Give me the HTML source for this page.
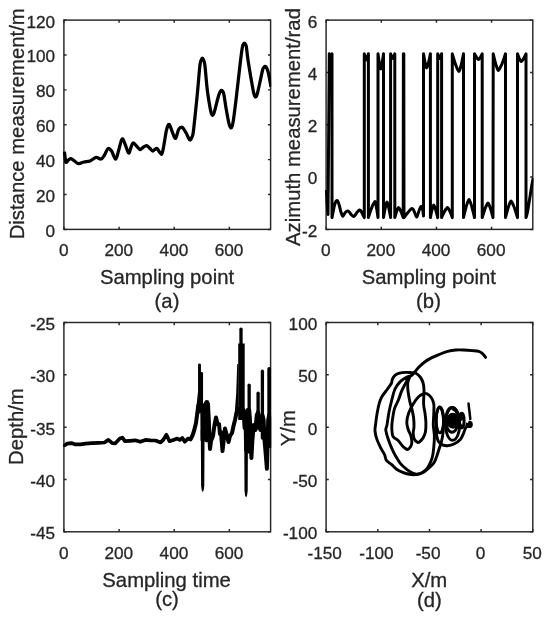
<!DOCTYPE html>
<html><head><meta charset="utf-8"><title>Figure</title>
<style>
html,body{margin:0;padding:0;background:#fff;}
svg{display:block;}
svg text{font-family:"Liberation Sans",sans-serif;fill:#262626;stroke:#262626;stroke-width:0.3px;}
</style></head><body>
<svg width="550" height="619" viewBox="0 0 550 619">
<rect width="550" height="619" fill="#ffffff"/>
<defs>
<clipPath id="ca"><rect x="62.50" y="20.10" width="208.70" height="209.30"/></clipPath>
<clipPath id="cb"><rect x="324.70" y="20.10" width="208.70" height="209.30"/></clipPath>
<clipPath id="cc"><rect x="62.50" y="322.50" width="208.70" height="209.30"/></clipPath>
<clipPath id="cd"><rect x="324.70" y="322.50" width="208.70" height="209.30"/></clipPath>
</defs>
<rect x="63.90" y="20.10" width="206.70" height="209.30" fill="none" stroke="#262626" stroke-width="1.45"/>
<path d="M64.00 229.40 v-2.70 M64.00 20.10 v2.70 M119.12 229.40 v-2.70 M119.12 20.10 v2.70 M174.24 229.40 v-2.70 M174.24 20.10 v2.70 M229.36 229.40 v-2.70 M229.36 20.10 v2.70 M63.90 229.40 h2.70 M270.60 229.40 h-2.70 M63.90 194.52 h2.70 M270.60 194.52 h-2.70 M63.90 159.63 h2.70 M270.60 159.63 h-2.70 M63.90 124.75 h2.70 M270.60 124.75 h-2.70 M63.90 89.87 h2.70 M270.60 89.87 h-2.70 M63.90 54.98 h2.70 M270.60 54.98 h-2.70 M63.90 20.10 h2.70 M270.60 20.10 h-2.70 " stroke="#262626" stroke-width="1.45" fill="none"/>
<text x="63.70" y="256.40" font-size="17.2" text-anchor="middle">0</text>
<text x="118.82" y="256.40" font-size="17.2" text-anchor="middle">200</text>
<text x="173.94" y="256.40" font-size="17.2" text-anchor="middle">400</text>
<text x="229.06" y="256.40" font-size="17.2" text-anchor="middle">600</text>
<text x="55.10" y="236.80" font-size="17.2" text-anchor="end">0</text>
<text x="55.10" y="201.92" font-size="17.2" text-anchor="end">20</text>
<text x="55.10" y="167.03" font-size="17.2" text-anchor="end">40</text>
<text x="55.10" y="132.15" font-size="17.2" text-anchor="end">60</text>
<text x="55.10" y="97.27" font-size="17.2" text-anchor="end">80</text>
<text x="55.10" y="62.38" font-size="17.2" text-anchor="end">100</text>
<text x="55.10" y="27.50" font-size="17.2" text-anchor="end">120</text>
<text x="167.00" y="284.20" font-size="20.3" text-anchor="middle">Sampling point</text>
<text x="167.00" y="308.20" font-size="20.3" text-anchor="middle">(a)</text>
<text transform="translate(23.60 123.80) rotate(-90)" font-size="20.3" text-anchor="middle">Distance measurement/m</text>
<path clip-path="url(#ca)" d="M64.40 151.60 C64.53 152.67 64.93 156.20 65.20 158.00 C65.47 159.80 65.45 162.07 66.00 162.40 C66.55 162.73 67.67 160.63 68.50 160.00 C69.33 159.37 70.08 158.50 71.00 158.60 C71.92 158.70 72.77 159.77 74.00 160.60 C75.23 161.43 76.73 163.37 78.40 163.60 C80.07 163.83 82.07 162.43 84.00 162.00 C85.93 161.57 88.00 161.77 90.00 161.00 C92.00 160.23 94.17 157.73 96.00 157.40 C97.83 157.07 99.58 159.40 101.00 159.00 C102.42 158.60 103.33 156.73 104.50 155.00 C105.67 153.27 106.82 149.27 108.00 148.60 C109.18 147.93 110.33 149.23 111.60 151.00 C112.87 152.77 114.45 159.20 115.60 159.20 C116.75 159.20 117.43 154.37 118.50 151.00 C119.57 147.63 120.92 140.17 122.00 139.00 C123.08 137.83 123.90 141.67 125.00 144.00 C126.10 146.33 127.63 152.33 128.60 153.00 C129.57 153.67 130.07 149.67 130.80 148.00 C131.53 146.33 132.05 143.33 133.00 143.00 C133.95 142.67 135.33 144.90 136.50 146.00 C137.67 147.10 138.92 149.35 140.00 149.60 C141.08 149.85 141.93 148.17 143.00 147.50 C144.07 146.83 145.32 145.52 146.40 145.60 C147.48 145.68 148.47 147.10 149.50 148.00 C150.53 148.90 151.72 150.75 152.60 151.00 C153.48 151.25 154.07 149.92 154.80 149.50 C155.53 149.08 156.22 148.08 157.00 148.50 C157.78 148.92 158.75 151.03 159.50 152.00 C160.25 152.97 160.92 154.63 161.50 154.30 C162.08 153.97 162.48 152.22 163.00 150.00 C163.52 147.78 164.02 144.33 164.60 141.00 C165.18 137.67 165.80 132.77 166.50 130.00 C167.20 127.23 168.13 124.90 168.80 124.40 C169.47 123.90 169.92 125.73 170.50 127.00 C171.08 128.27 171.47 130.10 172.30 132.00 C173.13 133.90 174.45 138.82 175.50 138.40 C176.55 137.98 177.55 131.37 178.60 129.50 C179.65 127.63 180.90 127.20 181.80 127.20 C182.70 127.20 183.25 128.48 184.00 129.50 C184.75 130.52 185.33 131.57 186.30 133.30 C187.27 135.03 188.85 139.28 189.80 139.90 C190.75 140.52 191.42 138.32 192.00 137.00 C192.58 135.68 192.67 136.67 193.30 132.00 C193.93 127.33 195.07 116.00 195.80 109.00 C196.53 102.00 197.02 97.25 197.70 90.00 C198.38 82.75 199.32 70.50 199.90 65.50 C200.48 60.50 200.78 61.25 201.20 60.00 C201.62 58.75 202.00 58.00 202.40 58.00 C202.80 58.00 203.18 58.75 203.60 60.00 C204.02 61.25 204.28 60.50 204.90 65.50 C205.52 70.50 206.45 83.00 207.30 90.00 C208.15 97.00 209.33 103.62 210.00 107.50 C210.67 111.38 210.88 112.00 211.30 113.30 C211.72 114.60 212.10 115.22 212.50 115.30 C212.90 115.38 213.28 114.77 213.70 113.80 C214.12 112.83 214.38 111.80 215.00 109.50 C215.62 107.20 216.68 102.67 217.40 100.00 C218.12 97.33 218.78 94.97 219.30 93.50 C219.82 92.03 220.12 91.72 220.50 91.20 C220.88 90.68 221.23 90.37 221.60 90.40 C221.97 90.43 222.32 90.72 222.70 91.40 C223.08 92.08 223.35 91.73 223.90 94.50 C224.45 97.27 225.23 103.50 226.00 108.00 C226.77 112.50 227.87 118.47 228.50 121.50 C229.13 124.53 229.38 125.12 229.80 126.20 C230.22 127.28 230.60 128.03 231.00 128.00 C231.40 127.97 231.80 127.33 232.20 126.00 C232.60 124.67 232.77 124.33 233.40 120.00 C234.03 115.67 234.80 110.00 236.00 100.00 C237.20 90.00 239.53 68.83 240.60 60.00 C241.67 51.17 241.93 49.63 242.40 47.00 C242.87 44.37 243.07 44.87 243.40 44.20 C243.73 43.53 244.07 43.00 244.40 43.00 C244.73 43.00 245.07 43.53 245.40 44.20 C245.73 44.87 245.97 44.37 246.40 47.00 C246.83 49.63 247.07 53.83 248.00 60.00 C248.93 66.17 251.03 78.42 252.00 84.00 C252.97 89.58 253.35 91.50 253.80 93.50 C254.25 95.50 254.40 95.42 254.70 96.00 C255.00 96.58 255.28 97.03 255.60 97.00 C255.92 96.97 256.27 96.55 256.60 95.80 C256.93 95.05 257.03 94.80 257.60 92.50 C258.17 90.20 259.17 85.75 260.00 82.00 C260.83 78.25 261.95 72.45 262.60 70.00 C263.25 67.55 263.50 67.90 263.90 67.30 C264.30 66.70 264.63 66.45 265.00 66.40 C265.37 66.35 265.73 66.52 266.10 67.00 C266.47 67.48 266.78 68.13 267.20 69.30 C267.62 70.47 267.97 71.05 268.60 74.00 C269.23 76.95 270.60 84.83 271.00 87.00" fill="none" stroke="#000" stroke-width="3.25" stroke-linejoin="round" stroke-linecap="butt"/>
<rect x="326.10" y="20.10" width="206.70" height="209.30" fill="none" stroke="#262626" stroke-width="1.45"/>
<path d="M326.20 229.40 v-2.70 M326.20 20.10 v2.70 M381.32 229.40 v-2.70 M381.32 20.10 v2.70 M436.44 229.40 v-2.70 M436.44 20.10 v2.70 M491.56 229.40 v-2.70 M491.56 20.10 v2.70 M326.10 229.40 h2.70 M532.80 229.40 h-2.70 M326.10 177.07 h2.70 M532.80 177.07 h-2.70 M326.10 124.75 h2.70 M532.80 124.75 h-2.70 M326.10 72.42 h2.70 M532.80 72.42 h-2.70 M326.10 20.10 h2.70 M532.80 20.10 h-2.70 " stroke="#262626" stroke-width="1.45" fill="none"/>
<text x="325.80" y="256.40" font-size="17.2" text-anchor="middle">0</text>
<text x="380.92" y="256.40" font-size="17.2" text-anchor="middle">200</text>
<text x="436.04" y="256.40" font-size="17.2" text-anchor="middle">400</text>
<text x="491.16" y="256.40" font-size="17.2" text-anchor="middle">600</text>
<text x="317.30" y="236.80" font-size="17.2" text-anchor="end">-2</text>
<text x="317.30" y="184.47" font-size="17.2" text-anchor="end">0</text>
<text x="317.30" y="132.15" font-size="17.2" text-anchor="end">2</text>
<text x="317.30" y="79.82" font-size="17.2" text-anchor="end">4</text>
<text x="317.30" y="27.50" font-size="17.2" text-anchor="end">6</text>
<text x="428.80" y="284.20" font-size="20.3" text-anchor="middle">Sampling point</text>
<text x="428.50" y="308.20" font-size="20.3" text-anchor="middle">(b)</text>
<text transform="translate(299.80 127.00) rotate(-90)" font-size="20.3" text-anchor="middle">Azimuth measurement/rad</text>
<path clip-path="url(#cb)" d="M326.40 190.00 C326.53 192.33 326.93 199.92 327.20 204.00 C327.47 208.08 327.87 212.75 328.00 214.50 L329.30 53.80 L329.30 53.80 C329.52 54.30 330.15 56.80 330.60 56.80 C331.05 56.80 331.77 54.30 332.00 53.80 L332.00 217.60 L332.00 217.60 C332.20 216.58 332.77 213.60 333.20 211.50 C333.63 209.40 334.13 206.70 334.60 205.00 C335.07 203.30 335.60 202.05 336.00 201.30 C336.40 200.55 336.67 200.47 337.00 200.50 C337.33 200.53 337.62 200.67 338.00 201.50 C338.38 202.33 338.83 203.83 339.30 205.50 C339.77 207.17 340.27 209.75 340.80 211.50 C341.33 213.25 342.00 215.45 342.50 216.00 C343.00 216.55 343.30 215.42 343.80 214.80 C344.30 214.18 344.88 212.93 345.50 212.30 C346.12 211.67 346.87 211.05 347.50 211.00 C348.13 210.95 348.67 211.37 349.30 212.00 C349.93 212.63 350.60 214.05 351.30 214.80 C352.00 215.55 352.85 216.47 353.50 216.50 C354.15 216.53 354.57 215.75 355.20 215.00 C355.83 214.25 356.58 212.83 357.30 212.00 C358.02 211.17 358.88 210.17 359.50 210.00 C360.12 209.83 360.48 210.30 361.00 211.00 C361.52 211.70 362.05 213.10 362.60 214.20 C363.15 215.30 364.02 217.03 364.30 217.60 L364.30 53.80 L364.30 53.80 C364.37 54.07 364.57 54.89 364.70 55.41 C364.83 55.93 364.97 56.45 365.10 56.92 C365.23 57.39 365.37 57.84 365.50 58.23 C365.63 58.63 365.77 58.98 365.90 59.28 C366.03 59.57 366.16 60.00 366.30 60.00 C366.44 60.00 366.58 59.57 366.72 59.28 C366.86 58.98 367.00 58.63 367.14 58.23 C367.28 57.84 367.42 57.39 367.56 56.92 C367.70 56.45 367.84 55.93 367.98 55.41 C368.12 54.89 368.33 54.07 368.40 53.80 L368.40 217.60 L368.40 217.60 C368.62 216.90 369.28 214.77 369.72 213.41 C370.16 212.06 370.60 210.72 371.04 209.50 C371.48 208.28 371.92 207.11 372.36 206.09 C372.80 205.07 373.24 204.15 373.68 203.38 C374.12 202.62 374.68 201.50 375.00 201.50 C375.32 201.50 375.40 202.62 375.60 203.38 C375.80 204.15 376.00 205.07 376.20 206.09 C376.40 207.11 376.60 208.28 376.80 209.50 C377.00 210.72 377.20 212.06 377.40 213.41 C377.60 214.77 377.90 216.90 378.00 217.60 L378.00 53.80 L378.00 53.80 C378.09 54.46 378.36 56.48 378.54 57.75 C378.72 59.03 378.90 60.30 379.08 61.45 C379.26 62.60 379.44 63.71 379.62 64.67 C379.80 65.63 379.98 66.50 380.16 67.22 C380.34 67.94 380.52 69.00 380.70 69.00 C380.88 69.00 381.07 67.94 381.26 67.22 C381.45 66.50 381.63 65.63 381.82 64.67 C382.01 63.71 382.19 62.60 382.38 61.45 C382.57 60.30 382.75 59.03 382.94 57.75 C383.13 56.48 383.41 54.46 383.50 53.80 L383.50 217.60 L383.50 217.60 C383.62 216.92 383.97 214.85 384.20 213.54 C384.43 212.24 384.67 210.93 384.90 209.75 C385.13 208.57 385.37 207.43 385.60 206.45 C385.83 205.46 386.07 204.57 386.30 203.82 C386.53 203.08 386.76 202.00 387.00 202.00 C387.24 202.00 387.48 203.08 387.72 203.82 C387.96 204.57 388.20 205.46 388.44 206.45 C388.68 207.43 388.92 208.57 389.16 209.75 C389.40 210.93 389.64 212.24 389.88 213.54 C390.12 214.85 390.48 216.92 390.60 217.60 L390.60 53.80 L390.60 53.80 C390.67 54.00 390.88 54.63 391.02 55.02 C391.16 55.42 391.30 55.81 391.44 56.17 C391.58 56.52 391.72 56.86 391.86 57.16 C392.00 57.46 392.14 57.73 392.28 57.95 C392.42 58.17 392.56 58.50 392.70 58.50 C392.84 58.50 392.98 58.17 393.12 57.95 C393.26 57.73 393.40 57.46 393.54 57.16 C393.68 56.86 393.82 56.52 393.96 56.17 C394.10 55.81 394.24 55.42 394.38 55.02 C394.52 54.63 394.73 54.00 394.80 53.80 L394.80 217.60 L394.80 217.60 C394.92 217.16 395.29 215.82 395.54 214.97 C395.79 214.13 396.03 213.28 396.28 212.52 C396.53 211.75 396.77 211.02 397.02 210.38 C397.27 209.74 397.51 209.16 397.76 208.68 C398.01 208.20 398.22 207.50 398.50 207.50 C398.78 207.50 399.13 208.20 399.44 208.68 C399.75 209.16 400.07 209.74 400.38 210.38 C400.69 211.02 401.01 211.75 401.32 212.52 C401.63 213.28 401.95 214.13 402.26 214.97 C402.57 215.82 403.04 217.16 403.20 217.60 L403.40 53.80 L403.80 53.80 L404.00 217.60 L404.00 217.60 C404.27 217.25 405.02 216.27 405.60 215.50 C406.18 214.73 406.80 213.88 407.50 213.00 C408.20 212.12 409.05 210.95 409.80 210.20 C410.55 209.45 411.40 208.57 412.00 208.50 C412.60 208.43 412.93 209.05 413.40 209.80 C413.87 210.55 414.28 211.80 414.80 213.00 C415.32 214.20 416.00 216.75 416.50 217.00 C417.00 217.25 417.33 215.67 417.80 214.50 C418.27 213.33 418.77 211.33 419.30 210.00 C419.83 208.67 420.52 206.87 421.00 206.50 C421.48 206.13 421.87 206.97 422.20 207.80 C422.53 208.63 422.78 210.13 423.00 211.50 C423.22 212.87 423.42 215.25 423.50 216.00 L423.50 53.80 L423.50 53.80 C423.61 54.42 423.93 56.30 424.14 57.49 C424.35 58.68 424.57 59.87 424.78 60.95 C424.99 62.02 425.21 63.05 425.42 63.95 C425.63 64.85 425.85 65.67 426.06 66.34 C426.27 67.01 426.47 68.00 426.70 68.00 C426.93 68.00 427.19 67.01 427.44 66.34 C427.69 65.67 427.93 64.85 428.18 63.95 C428.43 63.05 428.67 62.02 428.92 60.95 C429.17 59.87 429.41 58.68 429.66 57.49 C429.91 56.30 430.28 54.42 430.40 53.80 L430.40 217.60 L430.40 217.60 C430.51 217.05 430.84 215.38 431.06 214.32 C431.28 213.27 431.50 212.21 431.72 211.26 C431.94 210.30 432.16 209.39 432.38 208.59 C432.60 207.79 432.82 207.07 433.04 206.47 C433.26 205.87 433.46 205.00 433.70 205.00 C433.94 205.00 434.23 205.87 434.50 206.47 C434.77 207.07 435.03 207.79 435.30 208.59 C435.57 209.39 435.83 210.30 436.10 211.26 C436.37 212.21 436.63 213.27 436.90 214.32 C437.17 215.38 437.57 217.05 437.70 217.60 L437.70 53.80 L437.70 53.80 C437.77 54.00 437.97 54.63 438.10 55.02 C438.23 55.42 438.37 55.81 438.50 56.17 C438.63 56.52 438.77 56.86 438.90 57.16 C439.03 57.46 439.17 57.73 439.30 57.95 C439.43 58.17 439.57 58.50 439.70 58.50 C439.83 58.50 439.95 58.17 440.08 57.95 C440.21 57.73 440.33 57.46 440.46 57.16 C440.59 56.86 440.71 56.52 440.84 56.17 C440.97 55.81 441.09 55.42 441.22 55.02 C441.35 54.63 441.54 54.00 441.60 53.80 L441.60 217.60 L441.60 217.60 C441.80 217.16 442.39 215.82 442.78 214.97 C443.17 214.13 443.57 213.28 443.96 212.52 C444.35 211.75 444.75 211.02 445.14 210.38 C445.53 209.74 445.93 209.16 446.32 208.68 C446.71 208.20 447.14 207.50 447.50 207.50 C447.86 207.50 448.14 208.20 448.46 208.68 C448.78 209.16 449.10 209.74 449.42 210.38 C449.74 211.02 450.06 211.75 450.38 212.52 C450.70 213.28 451.02 214.13 451.34 214.97 C451.66 215.82 452.14 217.16 452.30 217.60 L452.30 53.80 L452.30 53.80 C452.52 54.57 453.19 56.92 453.64 58.40 C454.09 59.89 454.53 61.37 454.98 62.71 C455.43 64.05 455.87 65.33 456.32 66.45 C456.77 67.58 457.21 68.59 457.66 69.43 C458.11 70.27 458.63 71.50 459.00 71.50 C459.37 71.50 459.60 70.27 459.90 69.43 C460.20 68.59 460.50 67.58 460.80 66.45 C461.10 65.33 461.40 64.05 461.70 62.71 C462.00 61.37 462.30 59.89 462.60 58.40 C462.90 56.92 463.35 54.57 463.50 53.80 L463.50 217.60 L463.50 217.60 C463.68 216.82 464.23 214.41 464.60 212.89 C464.97 211.38 465.33 209.86 465.70 208.49 C466.07 207.12 466.43 205.80 466.80 204.66 C467.17 203.51 467.53 202.48 467.90 201.62 C468.27 200.76 468.63 199.50 469.00 199.50 C469.37 199.50 469.73 200.76 470.10 201.62 C470.47 202.48 470.83 203.51 471.20 204.66 C471.57 205.80 471.93 207.12 472.30 208.49 C472.67 209.86 473.03 211.38 473.40 212.89 C473.77 214.41 474.32 216.82 474.50 217.60 L474.50 53.80 L474.50 53.80 C474.63 54.05 475.03 54.80 475.30 55.28 C475.57 55.76 475.83 56.24 476.10 56.67 C476.37 57.10 476.63 57.51 476.90 57.88 C477.17 58.24 477.43 58.56 477.70 58.83 C477.97 59.10 478.24 59.50 478.50 59.50 C478.76 59.50 478.99 59.10 479.24 58.83 C479.49 58.56 479.73 58.24 479.98 57.88 C480.23 57.51 480.47 57.10 480.72 56.67 C480.97 56.24 481.21 55.76 481.46 55.28 C481.71 54.80 482.08 54.05 482.20 53.80 L482.20 217.60 L482.20 217.60 C482.39 216.97 482.97 215.03 483.36 213.80 C483.75 212.58 484.13 211.36 484.52 210.25 C484.91 209.14 485.29 208.09 485.68 207.16 C486.07 206.24 486.45 205.40 486.84 204.71 C487.23 204.01 487.64 203.00 488.00 203.00 C488.36 203.00 488.67 204.01 489.00 204.71 C489.33 205.40 489.67 206.24 490.00 207.16 C490.33 208.09 490.67 209.14 491.00 210.25 C491.33 211.36 491.67 212.58 492.00 213.80 C492.33 215.03 492.83 216.97 493.00 217.60 L493.20 53.80 L493.20 53.80 C493.37 54.52 493.88 56.74 494.22 58.14 C494.56 59.54 494.90 60.94 495.24 62.20 C495.58 63.47 495.92 64.68 496.26 65.74 C496.60 66.80 496.94 67.75 497.28 68.55 C497.62 69.34 497.89 70.50 498.30 70.50 C498.71 70.50 499.26 69.34 499.74 68.55 C500.22 67.75 500.70 66.80 501.18 65.74 C501.66 64.68 502.14 63.47 502.62 62.20 C503.10 60.94 503.58 59.54 504.06 58.14 C504.54 56.74 505.26 54.52 505.50 53.80 L505.50 217.60 L505.50 217.60 C505.68 216.88 506.23 214.68 506.60 213.28 C506.97 211.89 507.33 210.50 507.70 209.25 C508.07 207.99 508.43 206.78 508.80 205.73 C509.17 204.68 509.53 203.73 509.90 202.94 C510.27 202.15 510.60 201.00 511.00 201.00 C511.40 201.00 511.87 202.15 512.30 202.94 C512.73 203.73 513.17 204.68 513.60 205.73 C514.03 206.78 514.47 207.99 514.90 209.25 C515.33 210.50 515.77 211.89 516.20 213.28 C516.63 214.68 517.28 216.88 517.50 217.60 L517.50 53.80 L517.50 53.80 C517.62 54.13 517.99 55.16 518.24 55.80 C518.49 56.45 518.73 57.09 518.98 57.68 C519.23 58.26 519.47 58.82 519.72 59.31 C519.97 59.79 520.21 60.23 520.46 60.60 C520.71 60.97 520.92 61.50 521.20 61.50 C521.48 61.50 521.84 60.97 522.16 60.60 C522.48 60.23 522.80 59.79 523.12 59.31 C523.44 58.82 523.76 58.26 524.08 57.68 C524.40 57.09 524.72 56.45 525.04 55.80 C525.36 55.16 525.84 54.13 526.00 53.80 L526.00 217.60 L526.00 217.60 C526.25 216.67 526.92 214.93 527.50 212.00 C528.08 209.07 528.83 204.17 529.50 200.00 C530.17 195.83 530.88 190.67 531.50 187.00 C532.12 183.33 532.92 179.50 533.20 178.00" fill="none" stroke="#000" stroke-width="3" stroke-linejoin="round"/>
<rect x="63.90" y="322.50" width="206.70" height="209.30" fill="none" stroke="#262626" stroke-width="1.45"/>
<path d="M64.00 531.80 v-2.70 M64.00 322.50 v2.70 M119.12 531.80 v-2.70 M119.12 322.50 v2.70 M174.24 531.80 v-2.70 M174.24 322.50 v2.70 M229.36 531.80 v-2.70 M229.36 322.50 v2.70 M63.90 531.80 h2.70 M270.60 531.80 h-2.70 M63.90 479.47 h2.70 M270.60 479.47 h-2.70 M63.90 427.15 h2.70 M270.60 427.15 h-2.70 M63.90 374.82 h2.70 M270.60 374.82 h-2.70 M63.90 322.50 h2.70 M270.60 322.50 h-2.70 " stroke="#262626" stroke-width="1.45" fill="none"/>
<text x="63.70" y="558.80" font-size="17.2" text-anchor="middle">0</text>
<text x="118.82" y="558.80" font-size="17.2" text-anchor="middle">200</text>
<text x="173.94" y="558.80" font-size="17.2" text-anchor="middle">400</text>
<text x="229.06" y="558.80" font-size="17.2" text-anchor="middle">600</text>
<text x="55.10" y="539.20" font-size="17.2" text-anchor="end">-45</text>
<text x="55.10" y="486.87" font-size="17.2" text-anchor="end">-40</text>
<text x="55.10" y="434.55" font-size="17.2" text-anchor="end">-35</text>
<text x="55.10" y="382.22" font-size="17.2" text-anchor="end">-30</text>
<text x="55.10" y="329.90" font-size="17.2" text-anchor="end">-25</text>
<text x="166.60" y="586.80" font-size="20.3" text-anchor="middle">Sampling time</text>
<text x="167.00" y="605.60" font-size="20.3" text-anchor="middle">(c)</text>
<text transform="translate(23.30 426.60) rotate(-90)" font-size="20.3" text-anchor="middle">Depth/m</text>
<g clip-path="url(#cc)" stroke="#000" fill="none">
<path d="M64.80 445.40 L67.00 443.70 L71.50 443.10 L75.30 444.40 L80.40 444.40 L85.50 443.70 L91.80 443.10 L98.20 442.80 L104.50 442.50 L108.40 439.90 L112.20 443.10 L115.40 443.30 L119.80 438.60 L122.40 437.70 L124.90 441.20 L130.00 440.80 L135.20 440.30 L140.30 441.80 L145.40 439.90 L150.50 440.30 L155.50 440.50 L160.60 442.50 L163.20 439.90 L166.40 434.80 L169.50 441.20 L173.40 439.90 L177.20 438.60 L179.70 439.90 L182.30 438.00 L184.80 441.80 L188.00 438.60 L190.50 439.30" stroke-width="3.7" stroke-linejoin="round" stroke-linecap="round"/>
<path d="M190.50 439.30 L192.50 435.50 L194.00 431.00 L196.00 423.00 L197.20 414.00 L198.30 405.00 L199.30 405.00 L202.30 405.00 L202.50 440.00 L203.00 440.00 L204.20 415.00 L205.60 404.00 L206.80 403.00 L208.00 404.00 L208.80 420.00 L209.60 440.00 L210.00 449.00 L211.00 441.00 L213.00 436.00 L214.50 425.00 L216.00 417.50 L217.50 424.00 L219.00 424.00 L220.00 434.00 L221.00 432.00 L222.50 451.00 L223.50 442.00 L225.00 428.50 L226.50 434.00 L228.50 442.00 L230.00 436.00 L232.00 433.00 L233.50 426.00 L235.00 420.00 L236.50 413.00 L238.20 409.00 L243.50 410.00 L244.60 428.00 L245.60 421.00 L246.10 450.00 L246.80 430.00 L247.60 410.00 L249.20 410.00 L250.00 420.00 L250.80 440.00 L251.40 458.00 L252.40 440.00 L253.80 425.00 L255.40 430.00 L256.80 415.00 L258.10 412.00 L259.60 425.00 L260.40 430.00 L261.20 420.00 L262.40 415.00 L263.60 420.00 L264.50 440.00 L265.80 455.00 L266.90 468.80 L267.70 440.00 L268.20 420.00 L269.20 415.00 L270.20 420.00 L270.60 446.00" stroke-width="4" stroke-linejoin="round" stroke-linecap="round"/>
<path d="M202.5 440 L202.6 489.5 M246.1 440 L246.1 495" stroke="#fff" stroke-width="0" />
<path d="M199.50 364.95 V412.00" stroke-width="2.90" stroke-linecap="round"/>
<path d="M201.60 373.45 V412.00" stroke-width="2.90" stroke-linecap="round"/>
<path d="M198.2 390 L196.9 402 L196.6 414 L199 414 Z" fill="#000" stroke="none"/>
<path d="M206.80 402.45 V440.00" stroke-width="4.90" stroke-linecap="round"/>
<path d="M200.8 430 L201.1 486 L201.8 490.5 L202.7 492 L203.6 490.5 L204.3 486 L204.6 430 Z M244.2 430 L244.5 491 L245.2 495.8 L246.1 497.4 L247.0 495.8 L247.7 491 L248 430 Z" fill="#000" stroke="none"/>
<path d="M241.00 329.15 V360.00" stroke-width="3.30" stroke-linecap="round"/>
<path d="M241.45 343.50 V420.00" stroke-width="6.50" stroke-linecap="butt"/>
<path d="M238.3 364 L237.2 364 L236.2 393 L234.5 416 L238.3 416 Z" fill="#000" stroke="none"/>
<path d="M249.15 385.15 V452.00" stroke-width="3.30" stroke-linecap="round"/>
<path d="M258.10 393.15 V428.00" stroke-width="3.30" stroke-linecap="round"/>
<path d="M262.40 371.15 V438.00" stroke-width="3.30" stroke-linecap="round"/>
<path d="M269.20 368.90 V446.00" stroke-width="3.80" stroke-linecap="round"/>
</g>
<rect x="326.10" y="322.50" width="206.70" height="209.30" fill="none" stroke="#262626" stroke-width="1.45"/>
<path d="M326.10 531.80 v-2.70 M326.10 322.50 v2.70 M377.78 531.80 v-2.70 M377.78 322.50 v2.70 M429.45 531.80 v-2.70 M429.45 322.50 v2.70 M481.12 531.80 v-2.70 M481.12 322.50 v2.70 M532.80 531.80 v-2.70 M532.80 322.50 v2.70 M326.10 531.80 h2.70 M532.80 531.80 h-2.70 M326.10 479.47 h2.70 M532.80 479.47 h-2.70 M326.10 427.15 h2.70 M532.80 427.15 h-2.70 M326.10 374.82 h2.70 M532.80 374.82 h-2.70 M326.10 322.50 h2.70 M532.80 322.50 h-2.70 " stroke="#262626" stroke-width="1.45" fill="none"/>
<text x="324.70" y="558.80" font-size="17.2" text-anchor="middle">-150</text>
<text x="376.38" y="558.80" font-size="17.2" text-anchor="middle">-100</text>
<text x="428.05" y="558.80" font-size="17.2" text-anchor="middle">-50</text>
<text x="480.52" y="558.80" font-size="17.2" text-anchor="middle">0</text>
<text x="532.20" y="558.80" font-size="17.2" text-anchor="middle">50</text>
<text x="317.30" y="539.20" font-size="17.2" text-anchor="end">-100</text>
<text x="317.30" y="486.87" font-size="17.2" text-anchor="end">-50</text>
<text x="317.30" y="434.55" font-size="17.2" text-anchor="end">0</text>
<text x="317.30" y="382.22" font-size="17.2" text-anchor="end">50</text>
<text x="317.30" y="329.90" font-size="17.2" text-anchor="end">100</text>
<text x="429.20" y="586.80" font-size="20.3" text-anchor="middle">X/m</text>
<text x="429.30" y="607.00" font-size="20.3" text-anchor="middle">(d)</text>
<text transform="translate(294.80 428.20) rotate(-90)" font-size="20.3" text-anchor="middle">Y/m</text>
<g clip-path="url(#cd)" fill="none" stroke="#000" stroke-width="2.9" stroke-linejoin="round" stroke-linecap="round">
<path d="M485.60 357.40 C485.13 356.80 483.95 354.80 482.80 353.80 C481.65 352.80 480.47 351.93 478.70 351.40 C476.93 350.87 474.65 350.83 472.20 350.60 C469.75 350.37 466.73 350.10 464.00 350.00 C461.27 349.90 458.53 349.77 455.80 350.00 C453.07 350.23 450.32 350.68 447.60 351.40 C444.88 352.12 442.22 353.22 439.50 354.30 C436.78 355.38 433.77 356.62 431.30 357.90 C428.83 359.18 426.75 360.48 424.70 362.00 C422.65 363.52 420.63 365.37 419.00 367.00 C417.37 368.63 416.15 370.38 414.90 371.80 C413.65 373.22 412.82 374.63 411.50 375.50 C410.18 376.37 408.83 376.02 407.00 377.00 C405.17 377.98 402.50 379.40 400.50 381.40 C398.50 383.40 396.45 385.90 395.00 389.00 C393.55 392.10 392.80 396.17 391.80 400.00 C390.80 403.83 389.80 407.83 389.00 412.00 C388.20 416.17 387.53 422.03 387.00 425.00 C386.47 427.97 385.63 427.55 385.80 429.80 C385.97 432.05 387.00 435.40 388.00 438.50 C389.00 441.60 390.53 445.48 391.80 448.40 C393.07 451.32 394.15 453.47 395.60 456.00 C397.05 458.53 398.60 461.33 400.50 463.60 C402.40 465.87 405.00 468.03 407.00 469.60 C409.00 471.17 410.83 472.22 412.50 473.00 C414.17 473.78 415.35 474.38 417.00 474.30 C418.65 474.22 420.60 473.63 422.40 472.50 C424.20 471.37 426.17 469.97 427.80 467.50 C429.43 465.03 431.20 461.15 432.20 457.70 C433.20 454.25 433.43 450.42 433.80 446.80 C434.17 443.18 434.48 439.63 434.40 436.00 C434.32 432.37 433.40 428.83 433.30 425.00 C433.20 421.17 433.72 416.50 433.80 413.00 C433.88 409.50 434.20 406.55 433.80 404.00 C433.40 401.45 432.53 399.40 431.40 397.70 C430.27 396.00 428.28 394.47 427.00 393.80 C425.72 393.13 425.10 393.20 423.70 393.70 C422.30 394.20 420.35 395.08 418.60 396.80 C416.85 398.52 414.87 401.27 413.20 404.00 C411.53 406.73 409.67 410.15 408.60 413.20 C407.53 416.25 406.87 419.58 406.80 422.30 C406.73 425.02 407.52 427.23 408.20 429.50 C408.88 431.77 410.30 433.65 410.90 435.90 C411.50 438.15 411.88 441.15 411.80 443.00 C411.72 444.85 411.10 445.92 410.40 447.00 C409.70 448.08 408.88 449.63 407.60 449.50 C406.32 449.37 404.23 447.67 402.70 446.20 C401.17 444.73 400.02 442.33 398.40 440.70 C396.78 439.07 394.10 438.58 393.00 436.40 C391.90 434.22 391.90 430.33 391.80 427.60 C391.70 424.87 391.95 423.17 392.40 420.00 C392.85 416.83 393.50 411.93 394.50 408.60 C395.50 405.27 397.22 402.90 398.40 400.00 C399.58 397.10 400.33 394.12 401.60 391.20 C402.87 388.28 404.68 384.87 406.00 382.50 C407.32 380.13 408.42 378.33 409.50 377.00 C410.58 375.67 412.00 374.92 412.50 374.50"/>
<path d="M468.00 425.00 C467.58 425.50 466.20 426.73 465.50 428.00 C464.80 429.27 464.63 430.73 463.80 432.60 C462.97 434.47 462.13 437.30 460.50 439.20 C458.87 441.10 456.17 442.92 454.00 444.00 C451.83 445.08 449.50 445.60 447.50 445.70 C445.50 445.80 443.50 445.32 442.00 444.60 C440.50 443.88 439.37 442.83 438.50 441.40 C437.63 439.97 437.18 438.23 436.80 436.00 C436.42 433.77 436.30 431.05 436.20 428.00 C436.10 424.95 436.03 420.53 436.20 417.70 C436.37 414.87 436.62 412.80 437.20 411.00 C437.78 409.20 438.82 406.65 439.70 406.90 C440.58 407.15 441.87 410.15 442.50 412.50 C443.13 414.85 443.43 417.47 443.50 421.00 C443.57 424.53 443.23 430.30 442.90 433.70 C442.57 437.10 442.02 439.22 441.50 441.40 C440.98 443.58 440.55 444.45 439.80 446.80 C439.05 449.15 437.90 452.97 437.00 455.50 C436.10 458.03 435.40 460.25 434.40 462.00 C433.40 463.75 432.23 464.75 431.00 466.00 C429.77 467.25 428.43 468.37 427.00 469.50 C425.57 470.63 424.27 471.95 422.40 472.80 C420.53 473.65 417.98 474.35 415.80 474.60 C413.62 474.85 411.48 474.67 409.30 474.30 C407.12 473.93 404.88 473.28 402.70 472.40 C400.52 471.52 398.02 470.28 396.20 469.00 C394.38 467.72 393.43 466.13 391.80 464.70 C390.17 463.27 387.58 462.02 386.40 460.40 C385.22 458.78 385.60 457.00 384.70 455.00 C383.80 453.00 382.28 450.97 381.00 448.40 C379.72 445.83 378.00 442.50 377.00 439.60 C376.00 436.70 375.25 433.43 375.00 431.00 C374.75 428.57 375.17 427.83 375.50 425.00 C375.83 422.17 376.37 417.63 377.00 414.00 C377.63 410.37 378.47 406.10 379.30 403.20 C380.13 400.30 380.63 398.97 382.00 396.60 C383.37 394.23 385.95 391.18 387.50 389.00 C389.05 386.82 390.48 385.13 391.30 383.50 C392.12 381.87 391.78 380.55 392.40 379.20 C393.02 377.85 393.82 376.40 395.00 375.40 C396.18 374.40 397.67 373.70 399.50 373.20 C401.33 372.70 404.08 372.50 406.00 372.40 C407.92 372.30 409.37 372.47 411.00 372.60 C412.63 372.73 414.27 372.47 415.80 373.20 C417.33 373.93 419.00 375.45 420.20 377.00 C421.40 378.55 422.37 380.33 423.00 382.50 C423.63 384.67 423.90 386.42 424.00 390.00 C424.10 393.58 423.43 400.13 423.60 404.00 C423.77 407.87 424.62 410.15 425.00 413.20 C425.38 416.25 425.82 419.27 425.90 422.30 C425.98 425.33 425.95 428.83 425.50 431.40 C425.05 433.97 424.20 435.97 423.20 437.70 C422.20 439.43 420.42 441.02 419.50 441.80 C418.58 442.58 418.53 442.78 417.70 442.40 C416.87 442.02 415.25 441.03 414.50 439.50 C413.75 437.97 413.28 435.32 413.20 433.20 C413.12 431.08 413.93 429.38 414.00 426.80 C414.07 424.22 413.97 420.73 413.60 417.70 C413.23 414.67 412.40 411.17 411.80 408.60 C411.20 406.03 410.53 404.57 410.00 402.30 C409.47 400.03 408.97 397.22 408.60 395.00 C408.23 392.78 407.93 391.08 407.80 389.00 C407.67 386.92 407.52 384.42 407.80 382.50 C408.08 380.58 409.22 378.33 409.50 377.50"/>
<ellipse cx="439.9" cy="420.0" rx="3.7" ry="12.9" stroke-width="2.9"/>
<ellipse cx="452.0" cy="419.8" rx="6.3" ry="12.4"/>
<path d="M453.5 409.3 C456.5 410.5 458.2 414 458.4 418"/>
<ellipse cx="452.6" cy="424" rx="7.2" ry="16.3"/>
<ellipse cx="452.9" cy="420.7" rx="5.2" ry="6.5" fill="#000"/>
<ellipse cx="461.7" cy="420.6" rx="2.4" ry="7.4"/>
<ellipse cx="461.7" cy="416.4" rx="1.2" ry="4.2" fill="#000" stroke-width="1"/>
<ellipse cx="461.7" cy="426.4" rx="1.0" ry="1.6" fill="#000" stroke-width="1"/>
<path d="M470.3 419 L469.4 411 L468.5 403.6" stroke-width="2.5"/>
<circle cx="469.2" cy="424.4" r="2.2" fill="#000"/>
<ellipse cx="467.3" cy="421.5" rx="1.15" ry="1.5" fill="#fff" stroke="none"/>
</g>
</svg>
</body></html>
